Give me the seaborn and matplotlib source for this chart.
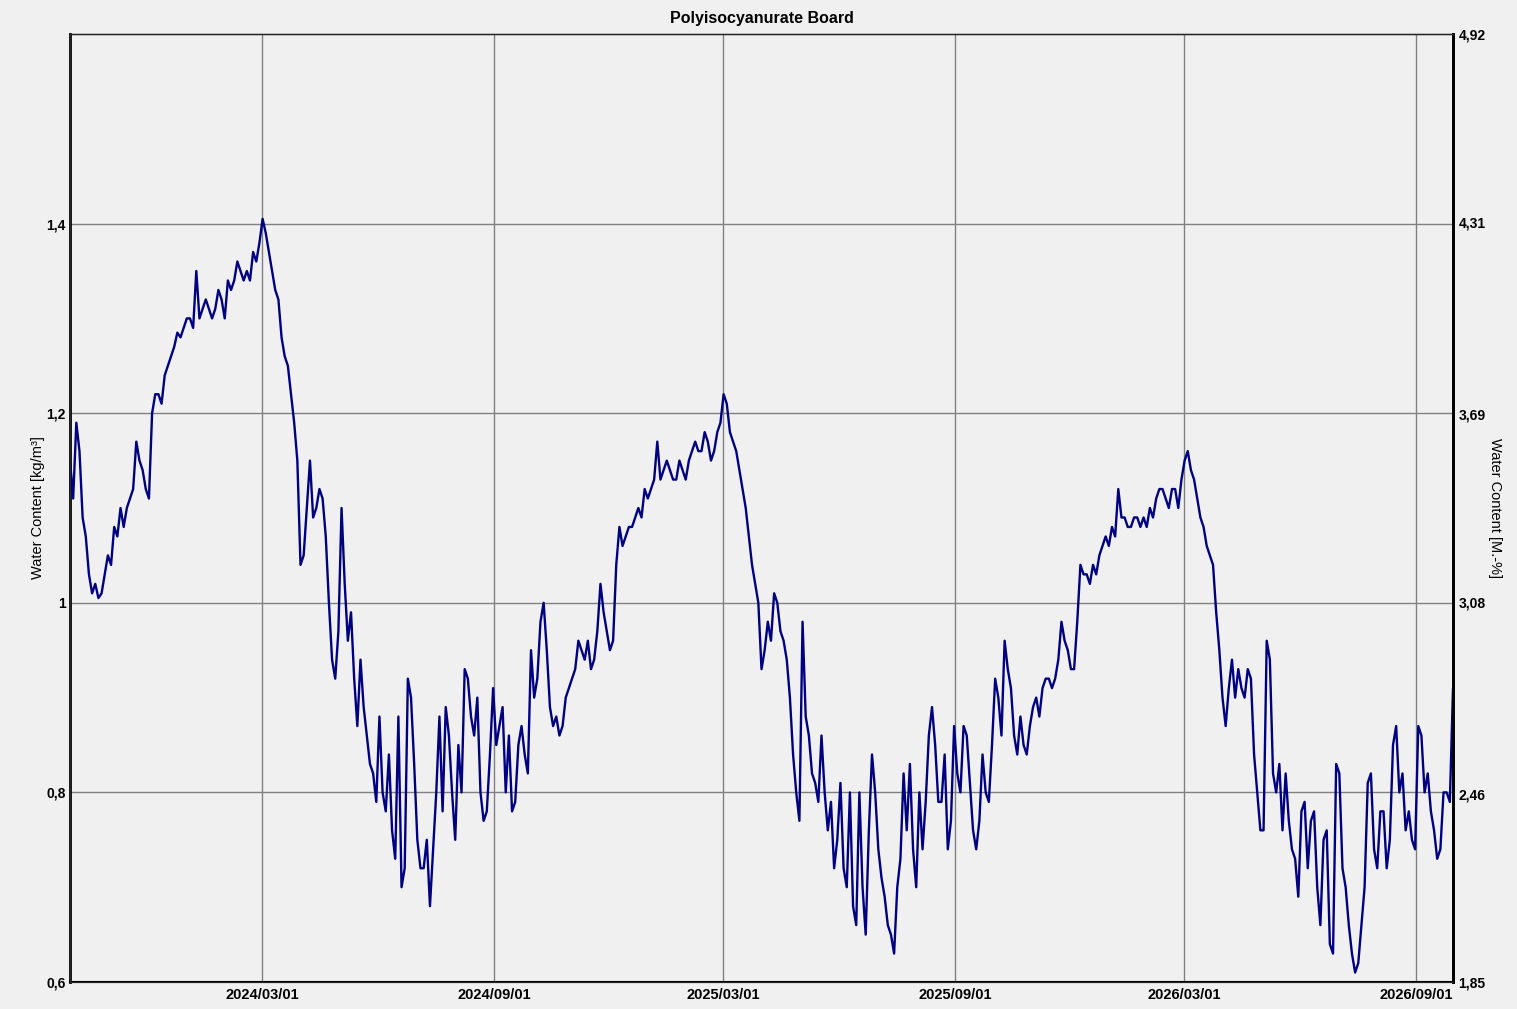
import matplotlib
matplotlib.use('Agg')
import matplotlib.pyplot as plt
import matplotlib.dates as mdates
import seaborn as sns
import pandas as pd
from matplotlib.ticker import FuncFormatter

# Water content, one value every 2.5 days from 2023-10-01
start_date = '2023-10-01'
step = '60h'
water_content = [
    1.15, 1.11, 1.19, 1.16, 1.09, 1.07, 1.03, 1.01, 1.02, 1.005,
    1.01, 1.03, 1.05, 1.04, 1.08, 1.07, 1.10, 1.08, 1.10, 1.11,
    1.12, 1.17, 1.15, 1.14, 1.12, 1.11, 1.20, 1.22, 1.22, 1.21,
    1.24, 1.25, 1.26, 1.27, 1.285, 1.28, 1.29, 1.30, 1.30, 1.29,
    1.35, 1.30, 1.31, 1.32, 1.31, 1.30, 1.31, 1.33, 1.32, 1.30,
    1.34, 1.33, 1.34, 1.36, 1.35, 1.34, 1.35, 1.34, 1.37, 1.36,
    1.38, 1.405, 1.39, 1.37, 1.35, 1.33, 1.32, 1.28, 1.26, 1.25,
    1.22, 1.19, 1.15, 1.04, 1.05, 1.10, 1.15, 1.09, 1.10, 1.12,
    1.11, 1.07, 1.00, 0.94, 0.92, 0.97, 1.10, 1.02, 0.96, 0.99,
    0.92, 0.87, 0.94, 0.89, 0.86, 0.83, 0.82, 0.79, 0.88, 0.80,
    0.78, 0.84, 0.76, 0.73, 0.88, 0.70, 0.72, 0.92, 0.90, 0.83,
    0.75, 0.72, 0.72, 0.75, 0.68, 0.74, 0.80, 0.88, 0.78, 0.89,
    0.86, 0.80, 0.75, 0.85, 0.80, 0.93, 0.92, 0.88, 0.86, 0.90,
    0.80, 0.77, 0.78, 0.84, 0.91, 0.85, 0.87, 0.89, 0.80, 0.86,
    0.78, 0.79, 0.85, 0.87, 0.84, 0.82, 0.95, 0.90, 0.92, 0.98,
    1.00, 0.95, 0.89, 0.87, 0.88, 0.86, 0.87, 0.90, 0.91, 0.92,
    0.93, 0.96, 0.95, 0.94, 0.96, 0.93, 0.94, 0.97, 1.02, 0.99,
    0.97, 0.95, 0.96, 1.04, 1.08, 1.06, 1.07, 1.08, 1.08, 1.09,
    1.10, 1.09, 1.12, 1.11, 1.12, 1.13, 1.17, 1.13, 1.14, 1.15,
    1.14, 1.13, 1.13, 1.15, 1.14, 1.13, 1.15, 1.16, 1.17, 1.16,
    1.16, 1.18, 1.17, 1.15, 1.16, 1.18, 1.19, 1.22, 1.21, 1.18,
    1.17, 1.16, 1.14, 1.12, 1.10, 1.07, 1.04, 1.02, 1.00, 0.93,
    0.95, 0.98, 0.96, 1.01, 1.00, 0.97, 0.96, 0.94, 0.90, 0.84,
    0.80, 0.77, 0.98, 0.88, 0.86, 0.82, 0.81, 0.79, 0.86, 0.80,
    0.76, 0.79, 0.72, 0.75, 0.81, 0.72, 0.70, 0.80, 0.68, 0.66,
    0.80, 0.70, 0.65, 0.76, 0.84, 0.80, 0.74, 0.71, 0.69, 0.66,
    0.65, 0.63, 0.70, 0.73, 0.82, 0.76, 0.83, 0.74, 0.70, 0.80,
    0.74, 0.79, 0.86, 0.89, 0.85, 0.79, 0.79, 0.84, 0.74, 0.77,
    0.87, 0.82, 0.80, 0.87, 0.86, 0.81, 0.76, 0.74, 0.77, 0.84,
    0.80, 0.79, 0.85, 0.92, 0.90, 0.86, 0.96, 0.93, 0.91, 0.86,
    0.84, 0.88, 0.85, 0.84, 0.87, 0.89, 0.90, 0.88, 0.91, 0.92,
    0.92, 0.91, 0.92, 0.94, 0.98, 0.96, 0.95, 0.93, 0.93, 0.98,
    1.04, 1.03, 1.03, 1.02, 1.04, 1.03, 1.05, 1.06, 1.07, 1.06,
    1.08, 1.07, 1.12, 1.09, 1.09, 1.08, 1.08, 1.09, 1.09, 1.08,
    1.09, 1.08, 1.10, 1.09, 1.11, 1.12, 1.12, 1.11, 1.10, 1.12,
    1.12, 1.10, 1.13, 1.15, 1.16, 1.14, 1.13, 1.11, 1.09, 1.08,
    1.06, 1.05, 1.04, 0.99, 0.95, 0.90, 0.87, 0.91, 0.94, 0.90,
    0.93, 0.91, 0.90, 0.93, 0.92, 0.84, 0.80, 0.76, 0.76, 0.96,
    0.94, 0.82, 0.80, 0.83, 0.76, 0.82, 0.77, 0.74, 0.73, 0.69,
    0.78, 0.79, 0.72, 0.77, 0.78, 0.70, 0.66, 0.75, 0.76, 0.64,
    0.63, 0.83, 0.82, 0.72, 0.70, 0.66, 0.63, 0.61, 0.62, 0.66,
    0.70, 0.81, 0.82, 0.74, 0.72, 0.78, 0.78, 0.72, 0.75, 0.85,
    0.87, 0.80, 0.82, 0.76, 0.78, 0.75, 0.74, 0.87, 0.86, 0.80,
    0.82, 0.78, 0.76, 0.73, 0.74, 0.80, 0.80, 0.79, 0.91,
]

left_ticks = [0.6, 0.8, 1.0, 1.2, 1.4]
right_ticks = [1.85, 2.46, 3.08, 3.69, 4.31, 4.92]
date_ticks = ['2024-03-01', '2024-09-01', '2025-03-01',
              '2025-09-01', '2026-03-01', '2026-09-01']

df = pd.DataFrame({
    'date': pd.date_range(start_date, periods=len(water_content), freq=step),
    'water_content': water_content,
})

sns.set_style('white')
plt.rcParams['font.family'] = ['Liberation Sans', 'DejaVu Sans']

bg = '#f0f0f0'
fig = plt.figure(figsize=(15.17, 10.09), dpi=100, facecolor=bg)
ax = fig.add_axes([70 / 1517, 1 - 982 / 1009, (1453 - 70) / 1517, (982 - 34) / 1009])
ax.set_facecolor(bg)

sns.lineplot(data=df, x='date', y='water_content', color='#000080',
             linewidth=1.7, ax=ax, zorder=3)

ax.set_xlim(df['date'].iloc[0], df['date'].iloc[-1])
ax.set_ylim(0.6, 1.6)
ax.set_yticks(left_ticks)
ax.yaxis.set_major_formatter(FuncFormatter(lambda v, p: f'{v:g}'.replace('.', ',')))
ax.set_xticks(pd.to_datetime(date_ticks))
ax.xaxis.set_major_formatter(mdates.DateFormatter('%Y/%m/%d'))
ax.grid(True, color='#808080', linewidth=1)
ax.tick_params(axis='x', length=0, labelsize=10.5, pad=4, colors='black')
ax.tick_params(axis='y', length=0, labelsize=10, pad=3, colors='black')
for lbl in ax.get_xticklabels() + ax.get_yticklabels():
    lbl.set_fontweight('bold')

ax.set_xlabel('')
ax.set_ylabel('Water Content [kg/m³]', fontsize=10.5, labelpad=1, color='black')
ax.set_title('Polyisocyanurate Board', fontsize=11.5, fontweight='bold', pad=8, color='black')

for side, lw in [('left', 2), ('right', 2), ('top', 1), ('bottom', 1.5)]:
    ax.spines[side].set_visible(True)
    ax.spines[side].set_color('black')
    ax.spines[side].set_linewidth(lw)

# Right axis in mass percent
ax2 = ax.twinx()
ax2.set_ylim(right_ticks[0], right_ticks[-1])
ax2.set_yticks(right_ticks)
ax2.set_yticklabels([f'{t:.2f}'.replace('.', ',') for t in right_ticks])
ax2.tick_params(length=0, labelsize=10, pad=4, colors='black')
for lbl in ax2.get_yticklabels():
    lbl.set_fontweight('bold')
ax2.set_ylabel('Water Content [M.-%]', fontsize=10.5, rotation=270, labelpad=12, color='black')
ax2.spines['right'].set_linewidth(2)
ax2.spines['right'].set_color('black')

fig.savefig('out.png', dpi=100, facecolor=bg)
